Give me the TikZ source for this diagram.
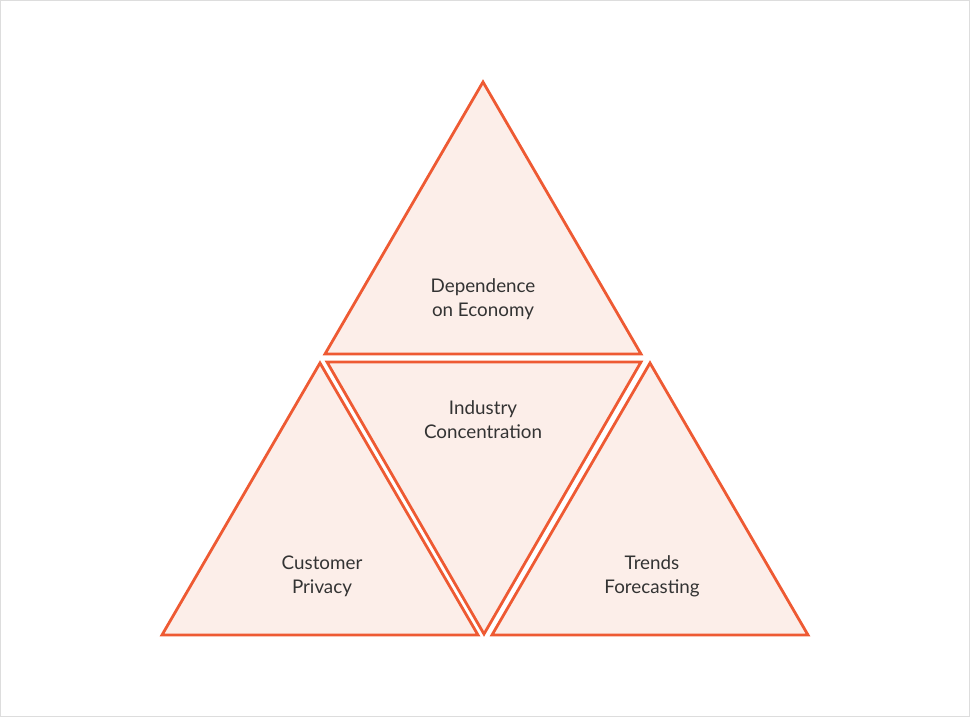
\documentclass[tikz,border=0pt]{standalone}
\usepackage{fontspec}
\setmainfont{Lato}
\definecolor{edge}{HTML}{EE5A33}
\definecolor{fillc}{HTML}{FCEEE9}
\definecolor{txt}{HTML}{333333}
\definecolor{frame}{HTML}{DDDDDD}
\begin{document}
\begin{tikzpicture}[x=1pt,y=-1pt,
  tri/.style={draw=edge,fill=fillc,line width=2.8pt,line join=miter},
  lbl/.style={text=txt,font=\fontsize{18.8}{24}\selectfont,align=center,inner sep=0pt}]
\useasboundingbox (0,0) rectangle (970,717);
\draw[frame,line width=1pt] (0.5,0.5) rectangle (969.5,716.5);
% top
\draw[tri] (483,82) -- (641,354) -- (325,354) -- cycle;
% middle (inverted)
\draw[tri] (327,362) -- (641,362) -- (484,634) -- cycle;
% left
\draw[tri] (320,363) -- (478,635) -- (162,635) -- cycle;
% right
\draw[tri] (650,363) -- (808,635) -- (492,635) -- cycle;
\node[lbl] (top) at (483,299) {Dependence\\on Economy};
\node[lbl] (mid) at (483,420) {Industry\\Concentration};
\node[lbl] (left) at (322,576) {Customer\\Privacy};
\node[lbl] (right) at (652,576) {Trends\\Forecasting};
\end{tikzpicture}
\end{document}
